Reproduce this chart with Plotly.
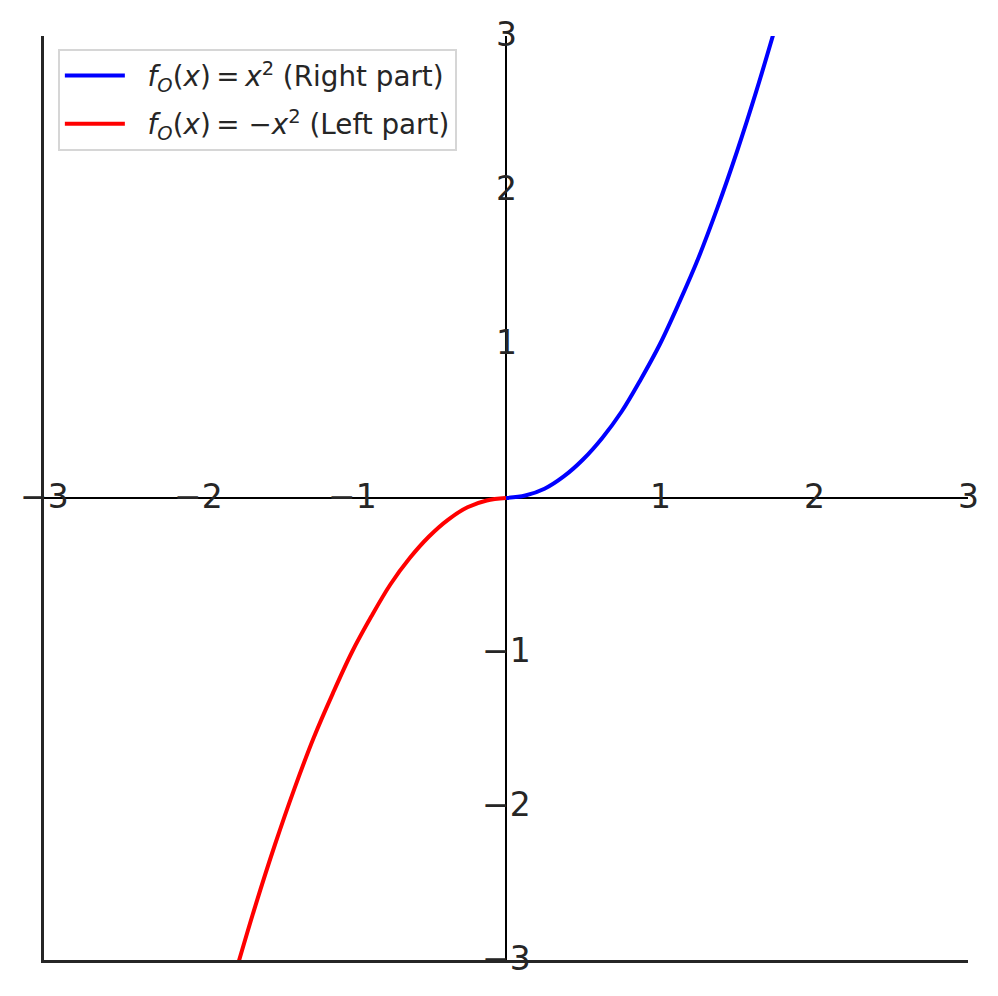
import plotly.graph_objects as go

# values
x_right = [0.0, 0.125, 0.25, 0.375, 0.5, 0.625, 0.75, 0.875, 1.0,
           1.125, 1.25, 1.375, 1.5, 1.625, 1.75]
y_right = [0.0, 0.016, 0.06, 0.14, 0.25, 0.39, 0.56, 0.77, 1.0,
           1.27, 1.56, 1.89, 2.25, 2.64, 3.06]
x_left = [-1.75, -1.625, -1.5, -1.375, -1.25, -1.125, -1.0, -0.875,
          -0.75, -0.625, -0.5, -0.375, -0.25, -0.125, 0.0]
y_left = [-3.06, -2.64, -2.25, -1.89, -1.56, -1.27, -1.0, -0.77,
          -0.56, -0.39, -0.25, -0.14, -0.06, -0.016, 0.0]

tick_vals = [-3, -2, -1, 1, 2, 3]
tick_text = ["\u22123", "\u22122", "\u22121", "1", "2", "3"]

name_right = "\u00a0\u00a0<i>f</i><sub><i>O</i></sub>(<i>x</i>)\u2009=\u2009<i>x</i><sup>2</sup> (Right part)"
name_left = "\u00a0\u00a0<i>f</i><sub><i>O</i></sub>(<i>x</i>)\u2009= \u2212<i>x</i><sup>2</sup> (Left part)"

text_color = "#262626"

fig = go.Figure()
fig.add_trace(go.Scatter(x=x_right, y=y_right, mode="lines", name=name_right,
                         legendgroup="right",
                         line=dict(color="blue", width=4, shape="spline")))
fig.add_trace(go.Scatter(x=x_left, y=y_left, mode="lines", name=name_left,
                         legendgroup="left",
                         line=dict(color="red", width=4, shape="spline")))

# tick labels sit on the centred axes
for v, t in zip(tick_vals, tick_text):
    fig.add_annotation(x=v, y=0, xref="x", yref="y", text=t, showarrow=False,
                       xanchor="center", yanchor="middle", yshift=2,
                       font=dict(size=33, color=text_color, family="DejaVu Sans"))
    fig.add_annotation(x=0, y=v, xref="x", yref="y", text=t, showarrow=False,
                       xanchor="center", yanchor="middle", yshift=2,
                       font=dict(size=33, color=text_color, family="DejaVu Sans"))

axis_style = dict(
    range=[-3, 3],
    showgrid=False,
    showticklabels=False,
    ticks="",
    zeroline=True,
    zerolinecolor="black",
    zerolinewidth=2,
    showline=True,
    linecolor=text_color,
    linewidth=3,
    mirror=False,
)

fig.update_layout(
    width=990,
    height=988,
    margin=dict(l=36, r=30, t=28, b=36),
    plot_bgcolor="white",
    paper_bgcolor="white",
    font=dict(family="DejaVu Sans", color=text_color),
    xaxis=axis_style,
    yaxis=axis_style,
    showlegend=True,
    legend=dict(
        x=0.015, y=0.986, xanchor="left", yanchor="top",
        bgcolor="white", bordercolor="#d6d6d6", borderwidth=2,
        itemwidth=60, tracegroupgap=9,
        font=dict(size=27.8, color=text_color, family="DejaVu Sans"),
    ),
)

fig.write_html("out.html")
